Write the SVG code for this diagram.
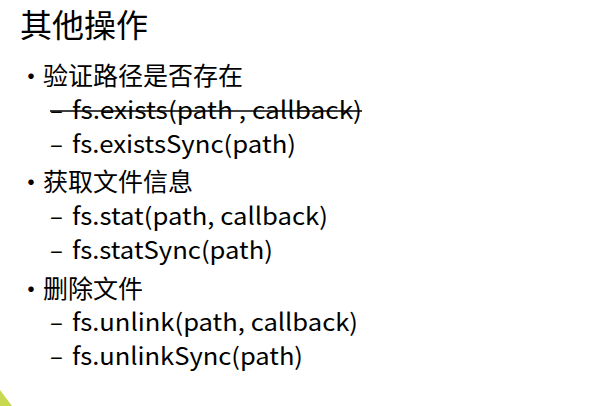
<svg xmlns="http://www.w3.org/2000/svg" width="602" height="406" viewBox="0 0 602 406">
<style>
text{font-family:"Noto Sans CJK SC","Noto Sans",sans-serif;fill:#000}
.t{font-size:32px}
.b{font-size:25px}
.d{font-size:26px}
.s{font-size:24px}
</style>
<rect width="602" height="406" fill="#fff"/>
<text class="t" x="20" y="37">其他操作</text>
<g id="n1"><text class="d" x="18" y="86">•</text><text class="b" x="43" y="85">验证路径是否存在</text></g>
<g id="n1a"><text class="s" x="50" y="119">–</text><text class="s" x="72" y="119" textLength="290" lengthAdjust="spacingAndGlyphs">fs.exists(path , callback)</text><line x1="50" y1="111" x2="362" y2="111" stroke="#000" stroke-width="1.5"/></g>
<g id="n1b"><text class="s" x="50" y="153">–</text><text class="s" x="72" y="153" textLength="224" lengthAdjust="spacingAndGlyphs">fs.existsSync(path)</text></g>
<g id="n2"><text class="d" x="18" y="192">•</text><text class="b" x="43" y="191">获取文件信息</text></g>
<g id="n2a"><text class="s" x="50" y="225">–</text><text class="s" x="72" y="225" textLength="256" lengthAdjust="spacingAndGlyphs">fs.stat(path, callback)</text></g>
<g id="n2b"><text class="s" x="50" y="259">–</text><text class="s" x="72" y="259" textLength="201" lengthAdjust="spacingAndGlyphs">fs.statSync(path)</text></g>
<g id="n3"><text class="d" x="18" y="299">•</text><text class="b" x="43" y="298">删除文件</text></g>
<g id="n3a"><text class="s" x="50" y="331">–</text><text class="s" x="72" y="331" textLength="286" lengthAdjust="spacingAndGlyphs">fs.unlink(path, callback)</text></g>
<g id="n3b"><text class="s" x="50" y="365">–</text><text class="s" x="72" y="365" textLength="231" lengthAdjust="spacingAndGlyphs">fs.unlinkSync(path)</text></g>
<g id="connectors"/>
<path d="M0 390 L12 406 L0 406 Z" fill="#c8d850"/>
</svg>
